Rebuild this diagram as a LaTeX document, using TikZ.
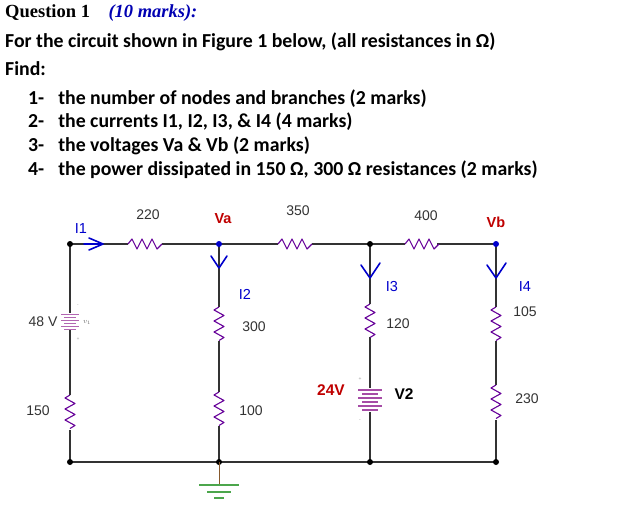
\documentclass[tikz,border=0pt]{standalone}
\usepackage{fontspec}
\setmainfont{Carlito}
\newfontfamily\tnr{Liberation Serif}
\newfontfamily\ar{Liberation Sans}
\begin{document}
\begin{tikzpicture}[x=1pt,y=-1pt,
  wire/.style={line width=1.6pt,draw=black!80},
  zz/.style={draw=violet!80!blue,line width=1.1pt,line join=round},
  cur/.style={draw=blue!80!black,line width=1.6pt,line cap=round},
  lbl/.style={font=\ar\fontsize{14}{15}\selectfont,text=black!80},
  red/.style={font=\ar\bfseries\fontsize{14.5}{15}\selectfont,text=red!75!black},
  ilbl/.style={font=\ar\fontsize{14.5}{15}\selectfont,text=blue!80!black},
  hd/.style={anchor=west,inner sep=0,font=\bfseries\fontsize{19.8}{22}\selectfont},
  dot/.style={circle,fill=black,inner sep=0pt,minimum size=6pt}]
\useasboundingbox (0,0) rectangle (624,508);
% header text
\node[anchor=west,inner sep=0] (q) at (5,13) {\tnr\bfseries\fontsize{18.5}{20}\selectfont Question 1\quad \textcolor{blue!70!black}{\itshape (10 marks):}};
\node[hd] (t1) at (5,42) {For the circuit shown in Figure 1 below, (all resistances in Ω)};
\node[hd] (t2) at (5,69) {Find:};
\node[hd] (l1) at (28,99) {1-\hspace{14pt}the number of nodes and branches (2 marks)};
\node[hd] (l2) at (28,122) {2-\hspace{14pt}the currents I1, I2, I3, \& I4 (4 marks)};
\node[hd] (l3) at (28,146) {3-\hspace{14pt}the voltages Va \& Vb (2 marks)};
\node[hd] (l4) at (28,170) {4-\hspace{14pt}the power dissipated in 150 Ω, 300 Ω resistances (2 marks)};
% nodes
\coordinate (tl) at (70,244); \coordinate (va) at (219,244);
\coordinate (tm) at (370,244); \coordinate (vb) at (496,244);
\coordinate (bl) at (70,462); \coordinate (bm1) at (219,462);
\coordinate (bm) at (370,462); \coordinate (br) at (496,462);
\coordinate (g) at (219,485);
% wires
\draw[wire] (tl) -- (128,244) (162,244) -- (278,244) (312,244) -- (405,244) (437,244) -- (vb);
\draw[wire] (tl) -- (70,313) (70,330) -- (70,395) (70,430) -- (bl) -- (br);
\draw[wire] (va) -- (219,307) (219,341) -- (219,392) (219,426) -- (bm1);
\draw[wire] (tm) -- (370,304) (370,337) -- (370,388) (370,412) -- (bm);
\draw[wire] (vb) -- (496,307) (496,341) -- (496,385) (496,420) -- (br);
% horizontal resistors
\foreach \x in {128,278,405}{
 \draw[zz] (\x,244) -- ++(4,-5) -- ++(5,10) -- ++(5,-10) -- ++(5,10) -- ++(5,-10) -- ++(5,10) -- ++(5,-5);}
% vertical resistors
\foreach \x/\y in {70/395,219/307,219/392,370/304,496/307,496/385}{
 \draw[zz] (\x,\y) -- ++(-5,3) -- ++(10,5.5) -- ++(-10,5.5) -- ++(10,5.5) -- ++(-10,5.5) -- ++(10,5.5) -- ++(-5,3);}
% 48V battery
\foreach \yy/\w in {314/9,317/6,320/9,323/6,326/9,329/6}{
 \draw[violet!60,line width=1pt] (70-\w,\yy) -- (70+\w,\yy);}
\node[lbl] (v48) at (43,322) {48 V};
\node[font=\ar\scriptsize,text=black!60] (v1) at (87,322) {$v_{\scriptscriptstyle 1}$};
\node[font=\tiny,text=black!40] (m1) at (78,306) {-};
\node[font=\tiny,text=black!40] (p1) at (78,339) {+};
% V2 battery
\foreach \yy/\w in {390/12,394/8,398/12,402/8,406/12,410/8}{
 \draw[violet!70,line width=1.4pt] (370-\w,\yy) -- (370+\w,\yy);}
\node[font=\ar\tiny,text=black!40] (p2) at (360,379) {+};
\node[font=\ar\tiny,text=black!40] (m2) at (360,421) {-};
% dots
\node[dot] (d1) at (tl) {}; \node[dot,fill=blue!80!black] (d2) at (va) {};
\node[dot] (d3) at (tm) {}; \node[dot,fill=blue!80!black] (d4) at (vb) {};
\node[dot] (d5) at (bl) {}; \node[dot] (d6) at (bm1) {};
\node[dot] (d7) at (bm) {}; \node[dot] (d8) at (br) {};
% ground
\draw[brown!70!black,line width=1pt] (bm1) -- (g);
\draw[green!50!black!70,line width=1.5pt] (g) ++(-20,0) -- ++(40,0) (219,492) ++(-12,0) -- ++(24,0) (219,498) ++(-5,0) -- ++(10,0);
% current arrows
\draw[cur] (103,244) -- (89,238) (103,244) -- (89,250) (103,244) -- (84,244);
\draw[cur] (219,268) -- (211,256) (219,268) -- (227,256);
\draw[cur] (370,278) -- (361,265) (370,278) -- (380,263);
\draw[cur] (496,278) -- (487,265) (496,278) -- (506,263);
% labels
\node[lbl] (r220) at (148,215) {220};
\node[lbl] (r350) at (298,211) {350};
\node[lbl] (r400) at (426,216) {400};
\node[red] (lva) at (223,219) {Va};
\node[red] (lvb) at (496,222) {Vb};
\node[ilbl] (i1) at (81,229) {I1};
\node[ilbl] (i2) at (245,294) {I2};
\node[ilbl] (i3) at (392,287) {I3};
\node[ilbl] (i4) at (525,287) {I4};
\node[lbl] (r300) at (254,327) {300};
\node[lbl] (r100) at (251,411) {100};
\node[lbl] (r150) at (38,411) {150};
\node[lbl] (r120) at (398,324) {120};
\node[lbl] (r105) at (525,312) {105};
\node[lbl] (r230) at (527,399) {230};
\node[red,font=\ar\bfseries\fontsize{15.5}{16}\selectfont] (l24) at (331,390) {24V};
\node[font=\ar\bfseries\fontsize{15.5}{16}\selectfont] (lv2) at (404,394) {V2};
\end{tikzpicture}
\end{document}
